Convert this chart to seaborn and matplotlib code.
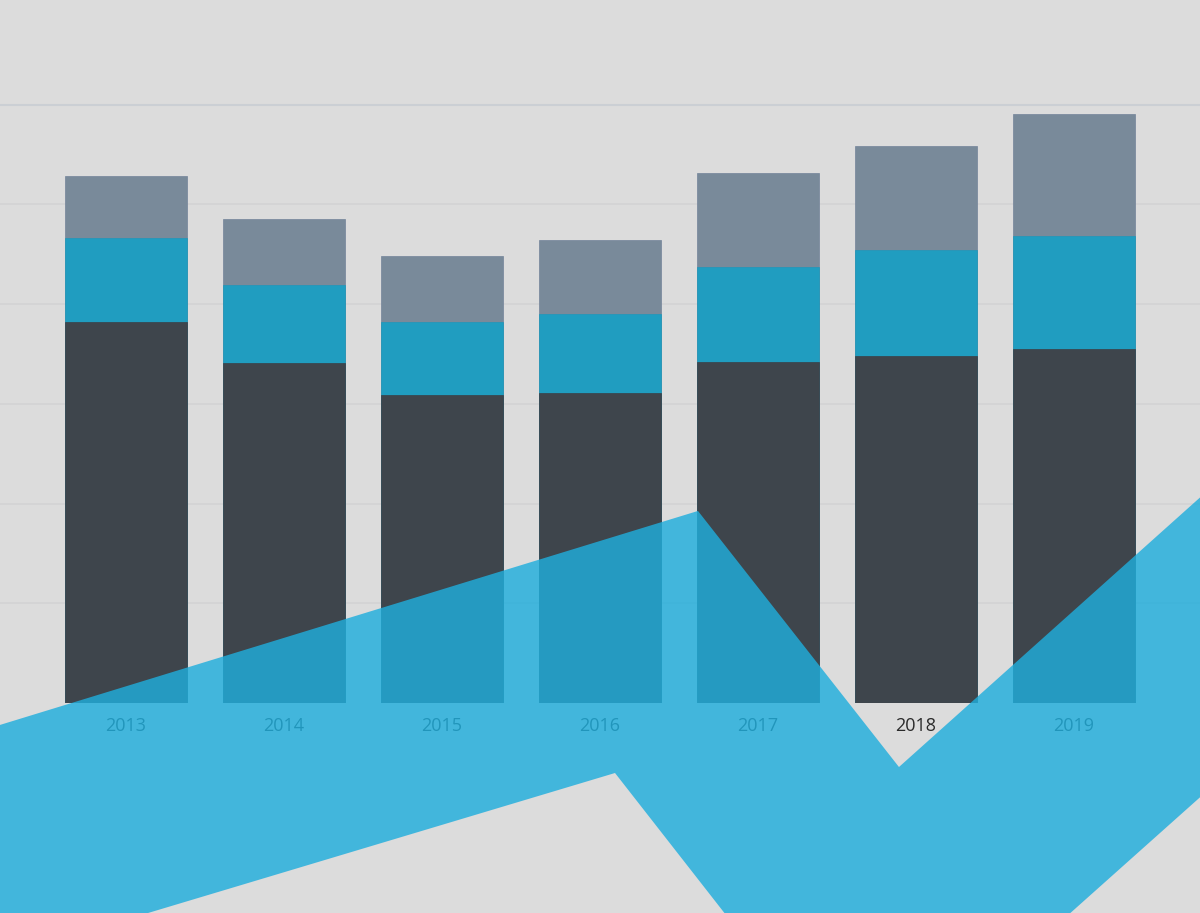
import matplotlib
matplotlib.use("Agg")
import matplotlib.pyplot as plt
import seaborn as sns
import numpy as np
import pandas as pd

# ---- data ----
years = ["2013", "2014", "2015", "2016", "2017", "2018", "2019"]
dark_vals = [382, 341, 309, 311, 342, 348, 355]
cyan_vals = [84, 78, 73, 79, 95, 106, 113]
gray_vals = [62, 66, 66, 74, 95, 105, 123]

# decorative trend band (category-position x, value y)
band_upper_x = [-0.9, 3.62, 4.892, 6.9]
band_upper_y = [-27, 192.6, -64.2, 220.7]
band_lower_x = [6.9, 4.687, 3.095, -0.9]
band_lower_y = [-80, -393, -70.2, -260]

bg = "#dcdcdc"
c_dark = "#3e454c"
c_cyan = "#209dc0"
c_gray = "#798a9a"
c_band = "#20aedc"

sns.set_theme(style="white")
plt.rcParams["font.family"] = ["Open Sans", "DejaVu Sans"]
plt.rcParams["axes.axisbelow"] = True

df = pd.DataFrame({"year": years, "dark": dark_vals, "cyan": cyan_vals, "gray": gray_vals})
df["lvl2"] = df["dark"] + df["cyan"]
df["lvl3"] = df["lvl2"] + df["gray"]

fig = plt.figure(figsize=(12, 9.13), dpi=100, facecolor=bg)
ax = fig.add_axes([0, 210 / 913, 1, 703 / 913])
ax.set_facecolor(bg)

w = 0.77
sns.barplot(data=df, x="year", y="lvl3", color=c_gray, width=w, saturation=1,
            edgecolor="#73849a", linewidth=0.5, ax=ax, zorder=2)
sns.barplot(data=df, x="year", y="lvl2", color=c_cyan, width=w, saturation=1,
            edgecolor="#1f97ba", linewidth=0.5, ax=ax, zorder=2)
sns.barplot(data=df, x="year", y="dark", color=c_dark, width=w, saturation=1,
            edgecolor="#3a4047", linewidth=0.5, ax=ax, zorder=2)

ax.set_xlim(-0.797, 6.797)
ax.set_ylim(0, 705)
ax.set_yticks([100, 200, 300, 400, 500, 600])
ax.yaxis.grid(True, color="#d3d3d4", linewidth=1.2)
gl = ax.yaxis.get_gridlines()
gl[-1].set_color("#cbcfd4")
gl[-1].set_linewidth(1.5)
ax.xaxis.grid(False)
ax.set_yticklabels([])
ax.tick_params(axis="y", length=0)
ax.tick_params(axis="x", length=0, pad=10, labelsize=13, labelcolor="#2a2a2a")
ax.set_xlabel("")
ax.set_ylabel("")
for s in ax.spines.values():
    s.set_visible(False)

# overlay band
px = band_upper_x + band_lower_x
py = band_upper_y + band_lower_y
ax.fill(px, py, color=c_band, alpha=0.82, lw=0, zorder=5, clip_on=False)

fig.savefig("out.png", dpi=100, facecolor=bg)
